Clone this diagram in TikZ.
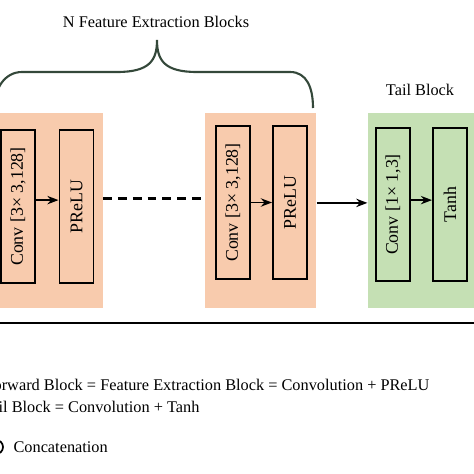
\documentclass[tikz,border=0pt]{standalone}
\usepackage{fontspec}
\setmainfont{Liberation Serif}
\usepackage{graphicx}
\usetikzlibrary{arrows.meta, positioning, calc}
\definecolor{blockorange}{HTML}{F8CBAD}
\definecolor{blockgreen}{HTML}{C5E0B4}
\definecolor{bracegreen}{HTML}{34483A}

\begin{document}
\begin{tikzpicture}[>=Stealth, thick, x=0.025cm, y=-0.025cm,
    every node/.style={inner sep=0pt, font=\fontsize{11.6}{14}\selectfont},
    layer/.style={draw, line width=1.4pt, minimum width=0.85cm, minimum height=3.825cm,
        font=\fontsize{12.7}{15}\selectfont},
    feblock/.style={fill=blockorange, minimum width=2.78cm, minimum height=4.875cm},
    tailblock/.style={fill=blockgreen, minimum width=2.8cm, minimum height=4.875cm}]
    \useasboundingbox (0,0) rectangle (474,474);
    \clip (0,0) rectangle (474,474);
    % Brace over the feature extraction blocks
    \node[anchor=base] (title) at (156,27) {N Feature Extraction Blocks};
    \draw [bracegreen, line width=1.5pt] (-6,110) .. controls (-6,88) and (5,72) .. (22,72) -- (117,72)
        .. controls (150,72) and (157,60) .. (157,40) .. controls (157,60) and (164,72) .. (197,72)
        -- (290,72) .. controls (307,72) and (313,88) .. (313,108);
    % First feature extraction block
    \node[feblock] (blk1) at (47,210.5) {};
    \node[layer] (conv1) at (18,206.5) {\rotatebox{90}{Conv [3× 3,128]}};
    \node[layer] (prelu1) at (76.5,206.5) {\rotatebox{90}{PReLU}};
    \draw [->, line width=1.1pt] ([yshift=0.16cm]conv1.east) -- ([yshift=0.16cm]prelu1.west);
    % Last feature extraction block
    \node[feblock] (blk2) at (260.5,210.5) {};
    \node[layer] (conv2) at (233,202.5) {\rotatebox{90}{Conv [3× 3,128]}};
    \node[layer] (prelu2) at (290,202.5) {\rotatebox{90}{PReLU}};
    \draw [->, line width=1.1pt] (conv2.east) -- (prelu2.west);
    \draw [dashed, line width=2pt, dash pattern=on 0.22cm off 0.15cm] ([yshift=0.29cm]blk1.east) -- ([yshift=0.29cm]blk2.west);
    % Tail block
    \node[anchor=base] (taillabel) at (420,95) {Tail Block};
    \node[tailblock] (tail) at (424,210.5) {};
    \node[layer] (conv3) at (393,204.5) {\rotatebox{90}{Conv [1× 1,3]}};
    \node[layer] (tanh) at (450,204.5) {\rotatebox{90}{Tanh}};
    \draw [->, line width=1.1pt] ([yshift=0.11cm]conv3.east) -- ([yshift=0.11cm]tanh.west);
    \draw [->, line width=1.1pt] ([yshift=0.19cm]blk2.east) -- ([yshift=0.19cm]tail.west);
    % Legend
    \draw [line width=1.4pt] (0,323) -- (474,323);
    \node[anchor=base east] (legend1) at (430,390) {Forward Block = Feature Extraction Block = Convolution + PReLU};
    \node[anchor=base east] (legend2) at (200,412) {Tail Block = Convolution + Tanh};
    \node[draw, circle, line width=1.2pt, minimum size=0.35cm] (cat) at (-4,447) {};
    \node[anchor=base west] (legend3) at (13,452) {Concatenation};
\end{tikzpicture}
\end{document}
